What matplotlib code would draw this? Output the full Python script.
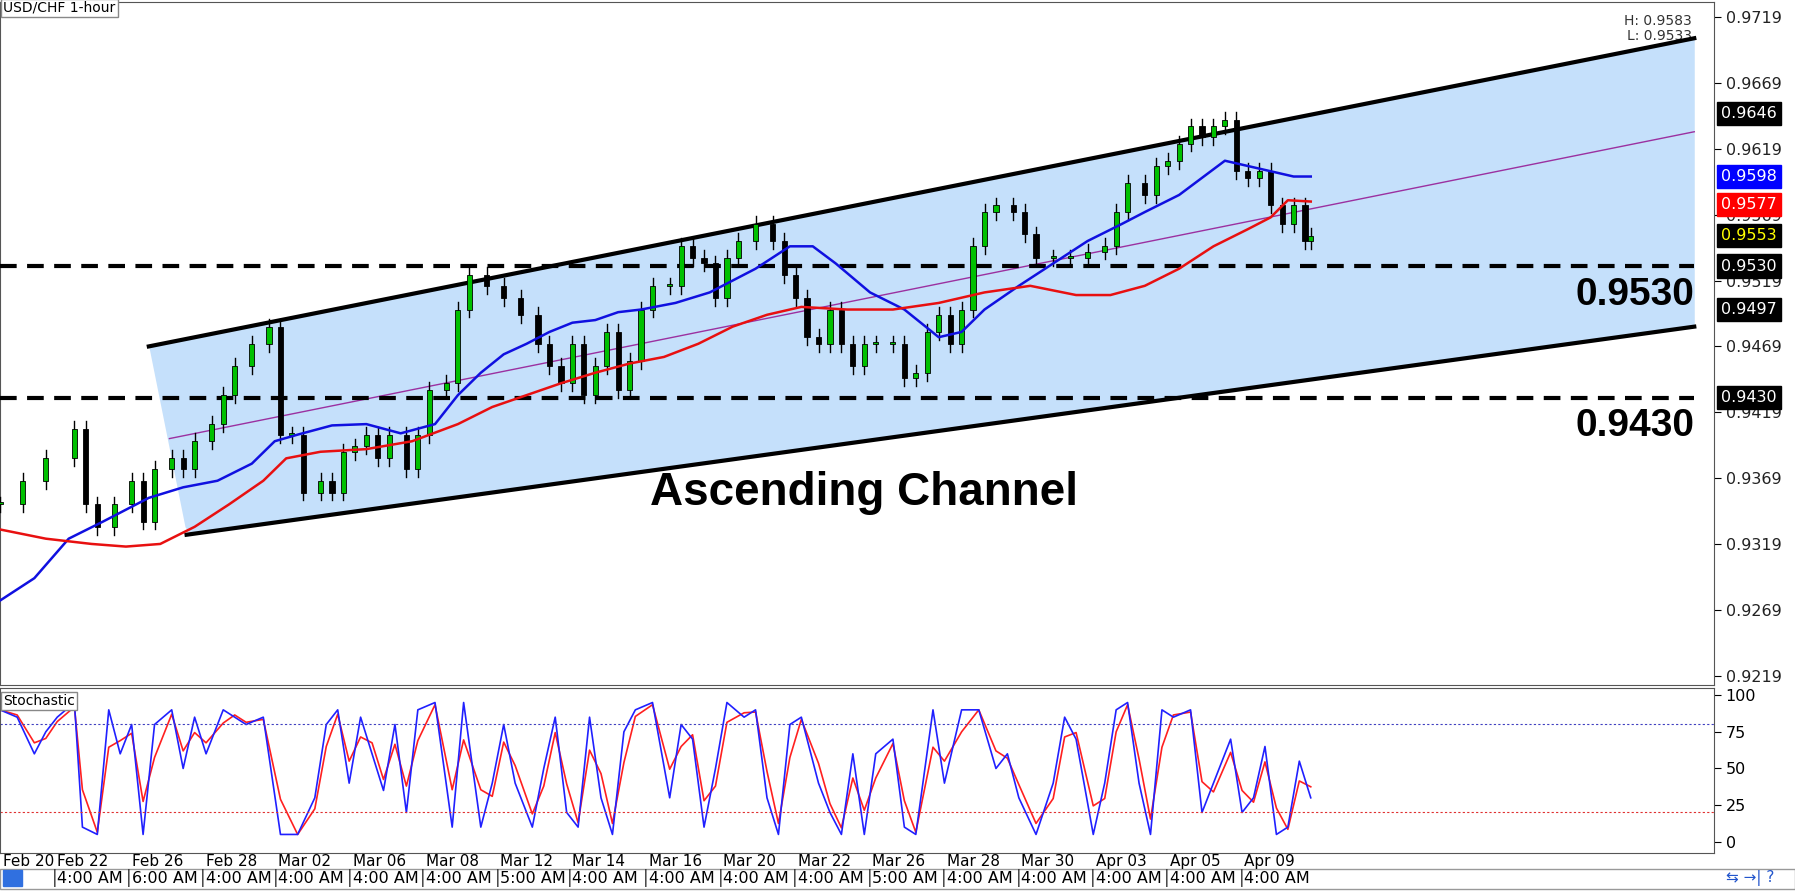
import matplotlib
matplotlib.use("Agg")
import matplotlib.pyplot as plt
import numpy as np

# ---- data ----
bar_x = [0,20,40,65,75,85,100,115,125,135,150,160,170,185,195,205,220,235,245,255,265,280,290,300,310,320,330,340,355,365,375,390,400,410,425,440,455,470,480,490,500,510,520,530,540,550,560,570,585,595,605,615,625,635,645,660,675,685,695,705,715,725,735,745,755,765,780,790,800,810,820,830,840,850,860,870,885,895,905,920,935,950,965,975,985,1000,1010,1020,1030,1040,1050,1060,1070,1080,1090,1100,1110,1120,1130,1140,1145]
closes = [0.9349,0.9367,0.9384,0.9406,0.9349,0.9332,0.9349,0.9367,0.9336,0.9376,0.9384,0.9376,0.9397,0.9410,0.9432,0.9454,0.9471,0.9484,0.9402,0.9402,0.9358,0.9367,0.9358,0.9389,0.9393,0.9402,0.9384,0.9402,0.9376,0.9402,0.9436,0.9441,0.9497,0.9523,0.9515,0.9506,0.9493,0.9471,0.9454,0.9441,0.9471,0.9432,0.9454,0.9480,0.9436,0.9458,0.9497,0.9515,0.9515,0.9545,0.9536,0.9532,0.9506,0.9536,0.9549,0.9562,0.9549,0.9523,0.9506,0.9476,0.9471,0.9497,0.9471,0.9454,0.9471,0.9471,0.9471,0.9445,0.9449,0.9480,0.9493,0.9471,0.9497,0.9545,0.9571,0.9576,0.9571,0.9554,0.9536,0.9536,0.9536,0.9541,0.9545,0.9571,0.9593,0.9584,0.9606,0.9610,0.9623,0.9636,0.9628,0.9636,0.9641,0.9602,0.9597,0.9602,0.9576,0.9562,0.9576,0.9549,0.9553]
ma_fast_x = [0,30,60,90,130,160,190,220,240,260,290,320,350,380,400,420,440,460,480,500,520,540,560,590,620,660,690,710,730,760,790,820,840,860,890,920,950,980,1000,1030,1050,1070,1090,1110,1130,1145]
ma_fast = [0.9276,0.9293,0.9323,0.9336,0.9354,0.9362,0.9367,0.9380,0.9397,0.9402,0.9409,0.9410,0.9403,0.9410,0.9432,0.9449,0.9463,0.9471,0.9480,0.9487,0.9489,0.9495,0.9497,0.9502,0.9510,0.9528,0.9545,0.9545,0.9532,0.9510,0.9497,0.9476,0.9480,0.9497,0.9515,0.9532,0.9549,0.9562,0.9571,0.9584,0.9597,0.9610,0.9606,0.9602,0.9598,0.9598]
ma_slow_x = [0,40,80,110,140,170,200,230,250,280,320,360,400,430,460,490,520,550,580,610,640,670,700,740,780,820,860,900,940,970,1000,1030,1060,1090,1110,1125,1145]
ma_slow = [0.9330,0.9323,0.9319,0.9317,0.9319,0.9332,0.9349,0.9367,0.9384,0.9389,0.9391,0.9397,0.9410,0.9423,0.9432,0.9441,0.9449,0.9456,0.9461,0.9471,0.9484,0.9493,0.9499,0.9497,0.9497,0.9502,0.9510,0.9515,0.9508,0.9508,0.9515,0.9528,0.9545,0.9558,0.9567,0.9580,0.9579]
chan_upper_x = [130,1480]; chan_upper = [0.9469,0.9703]
chan_lower_x = [163,1480]; chan_lower = [0.9326,0.9484]
chan_mid_x = [148,1480]; chan_mid = [0.9399,0.9632]
levels = [0.9530,0.9430]
stoch_x = [0,15,30,40,50,65,72,85,95,105,115,125,135,150,160,170,180,195,205,215,230,245,260,275,285,295,305,315,325,335,345,355,365,380,395,405,420,430,440,450,465,475,485,495,505,515,525,535,545,555,570,585,595,605,615,625,635,650,660,670,680,690,700,715,725,735,745,755,765,780,790,800,815,825,840,855,870,880,890,905,920,930,940,955,965,975,985,995,1005,1015,1025,1040,1050,1060,1075,1085,1095,1105,1115,1125,1135,1145]
stoch_k = [90,85,60,75,85,95,10,5,90,60,80,5,80,90,50,85,60,90,85,80,85,5,5,30,80,90,40,85,60,35,80,20,90,95,10,95,10,40,80,40,10,50,85,20,10,85,30,5,75,90,95,30,80,70,10,50,95,85,90,30,5,80,85,40,20,5,60,5,60,70,10,5,90,40,90,90,50,60,30,5,40,85,70,5,40,90,95,40,5,90,85,90,20,40,70,20,30,65,5,10,55,30]
date_labels = ["Feb 20","Feb 22","Feb 26","Feb 28","Mar 02","Mar 06","Mar 08","Mar 12","Mar 14","Mar 16","Mar 20","Mar 22","Mar 26","Mar 28","Mar 30","Apr 03","Apr 05","Apr 09"]
date_pos = [3,50,115,180,243,308,372,437,500,567,632,697,762,827,892,957,1022,1087]
time_labels = ["4:00 AM","6:00 AM","4:00 AM","4:00 AM","4:00 AM","4:00 AM","5:00 AM","4:00 AM","4:00 AM","4:00 AM","4:00 AM","5:00 AM","4:00 AM","4:00 AM","4:00 AM","4:00 AM","4:00 AM"]
right_ticks = [0.9719,0.9669,0.9619,0.9569,0.9519,0.9469,0.9419,0.9369,0.9319,0.9269,0.9219]
tags = [(0.9646,'black','white'),(0.9598,'#0000ff','white'),(0.9577,'#ff0000','white'),
        (0.9553,'black','yellow'),(0.9530,'black','white'),(0.9497,'black','white'),(0.9430,'black','white')]

W, H = 1568, 778   # layout reference frame (scaled view of the 1795x891 canvas)
fig = plt.figure(figsize=(17.95, 8.91), dpi=100)
ax = fig.add_axes([0, 1-598/H, 1497/W, 596/H])
ax2 = fig.add_axes([0, 1-745/H, 1497/W, 144/H])
for a in (ax, ax2):
    a.set_xlim(0, 1497)
    for s in a.spines.values(): s.set_color('#555555')
ax.set_ylim(0.92120, 0.97303)

# channel
pu = np.polyfit(chan_upper_x, chan_upper, 1)
xs = np.linspace(chan_upper_x[0], chan_upper_x[1], 300)
lo = np.where(xs < chan_lower_x[0],
              np.interp(xs, [chan_upper_x[0], chan_lower_x[0]], [np.polyval(pu, chan_upper_x[0]), chan_lower[0]]),
              np.polyval(np.polyfit(chan_lower_x, chan_lower, 1), xs))
ax.fill_between(xs, lo, np.polyval(pu, xs), color='#c5e0fb', zorder=0, lw=0)
ax.plot(chan_upper_x, chan_upper, color='black', lw=3, zorder=5)
ax.plot(chan_lower_x, chan_lower, color='black', lw=3, zorder=5)
ax.plot(chan_mid_x, chan_mid, color='#9b30a0', lw=1, zorder=3)
for lv in levels:
    ax.plot([0, 1480], [lv, lv], color='black', lw=3, ls=(0, (4, 2.5)), zorder=5)

# candles
opens = [closes[0]] + closes[:-1]
for x, o, c in zip(bar_x, opens, closes):
    hi = max(o, c) + 0.0006
    lo_ = min(o, c) - 0.0006
    ax.plot([x, x], [lo_, hi], color='black', lw=1, zorder=6)
    fc = '#00c000' if c >= o else 'black'
    ax.bar(x, max(abs(c - o), 0.00015), bottom=min(o, c), width=4.5, color=fc, edgecolor='black', lw=0.6, zorder=7)

ax.plot(ma_fast_x, ma_fast, color='#1010e0', lw=1.8, zorder=8)
ax.plot(ma_slow_x, ma_slow, color='#e81010', lw=1.8, zorder=8)

ax.text(1480, 0.9530-0.0008, "0.9530", ha='right', va='top', fontsize=28, fontweight='bold', family='Liberation Sans', zorder=9)
ax.text(1480, 0.9430-0.0008, "0.9430", ha='right', va='top', fontsize=28, fontweight='bold', family='Liberation Sans', zorder=9)
ax.text(755, 0.9358, "Ascending Channel", ha='center', va='center', fontsize=33, fontweight='bold', family='Liberation Sans', zorder=9)
ax.text(1478, 0.9716, "H: 0.9583", ha='right', va='center', fontsize=10, color='#333333')
ax.text(1478, 0.9705, "L: 0.9533", ha='right', va='center', fontsize=10, color='#333333')
ax.text(3, 0.9726, "USD/CHF 1-hour", ha='left', va='center', fontsize=10,
        bbox=dict(facecolor='white', edgecolor='#888888', pad=1.5))

ax.yaxis.tick_right()
ax.set_yticks(right_ticks)
ax.set_yticklabels([f"{v:.4f}" for v in right_ticks], fontsize=11.5, color='#222222')
ax.tick_params(axis='y', length=5, pad=4)
ax.set_xticks([])
for val, bg, fg in tags:
    ax.text(1.0045, val, f"{val:.4f}", transform=ax.get_yaxis_transform(), ha='left', va='center',
            fontsize=11.5, color=fg, bbox=dict(facecolor=bg, edgecolor=bg, pad=3), zorder=10, clip_on=False)

# stochastic (%D as a light lag of %K)
k = np.array(stoch_k, float)
d = 0.7 * k + 0.3 * np.r_[k[0], k[:-1]]
ax2.plot(stoch_x, d, color='#ff2020', lw=1.2)
ax2.plot(stoch_x, k, color='#2020ff', lw=1.2)
ax2.axhline(80, color='#4040c0', lw=0.8, ls=(0, (2, 2)))
ax2.axhline(20, color='#e03030', lw=0.8, ls=(0, (2, 2)))
ax2.set_ylim(-7.8, 104.7)
ax2.yaxis.tick_right()
ax2.set_yticks([0, 25, 50, 75, 100])
ax2.tick_params(axis='y', labelsize=11.5, length=5)
ax2.set_xticks([])
ax2.text(3, 101, "Stochastic", fontsize=10, va='top', bbox=dict(facecolor='white', edgecolor='#888888', pad=1.5))

# date row and time row
for lab, p in zip(date_labels, date_pos):
    fig.text(p/W, 1-752/H, lab, fontsize=11, va='center', ha='left')
fig.patches.append(plt.Rectangle((0, 1-776/H), 1, 17/H, transform=fig.transFigure, facecolor='white', edgecolor='#999999', lw=1))
fig.patches.append(plt.Rectangle((3/W, 1-774/H), 16/W, 14/H, transform=fig.transFigure, facecolor='#3070e0', edgecolor='#3070e0'))
for lab, p in zip(time_labels, date_pos[1:]):
    fig.text((p-5)/W, 1-767/H, "|", fontsize=12, va='center', ha='left', color='#333333')
    fig.text(p/W, 1-767/H, lab, fontsize=11.5, va='center', ha='left')
fig.text(1-60/W, 1-767/H, "⇆ →| ?", fontsize=11, color='#2255cc', va='center')
fig.savefig("out.png", dpi=100)
